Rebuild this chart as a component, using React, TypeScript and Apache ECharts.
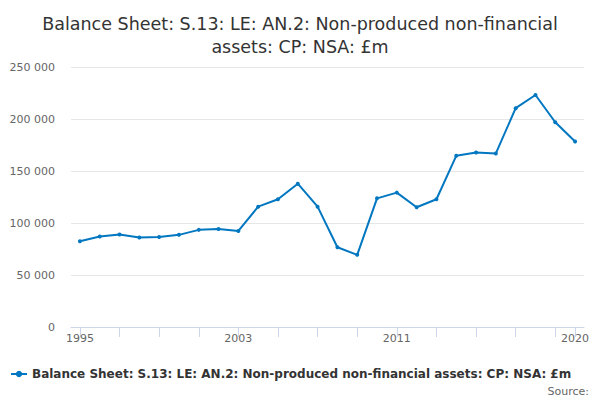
import React, { useEffect, useRef } from "react";
import * as echarts from "echarts";

const years = [1995, 1996, 1997, 1998, 1999, 2000, 2001, 2002, 2003, 2004, 2005, 2006, 2007, 2008, 2009, 2010, 2011, 2012, 2013, 2014, 2015, 2016, 2017, 2018, 2019, 2020];
const values = [82500, 87000, 88900, 86000, 86600, 88600, 93400, 94300, 92400, 115700, 122800, 137800, 115700, 76700, 69400, 123700, 129200, 115100, 122800, 164600, 167800, 166900, 210400, 223100, 196900, 178400];
const tickYears = [1995, 1997, 1999, 2001, 2003, 2005, 2007, 2009, 2011, 2013, 2015, 2017, 2019, 2020];
const labelYears = [1995, 2003, 2011, 2020];
const seriesName = "Balance Sheet: S.13: LE: AN.2: Non-produced non-financial assets: CP: NSA: £m";
const titleText = "Balance Sheet: S.13: LE: AN.2: Non-produced non-financial\nassets: CP: NSA: £m";

const font = "DejaVu Sans, Verdana, sans-serif";

export default function App() {
  const ref = useRef<HTMLDivElement>(null);
  useEffect(() => {
    if (!ref.current) return;
    const chart = echarts.init(ref.current, undefined, { renderer: "svg" });
    chart.setOption({
      animation: false,
      title: {
        text: titleText,
        left: "center",
        top: 7,
        textStyle: { fontFamily: font, fontSize: 17.5, fontWeight: "normal", color: "#333333", lineHeight: 23 },
      },
      grid: { left: 71, right: 16, top: 67, bottom: 73 },
      xAxis: {
        type: "value",
        min: 1994.55,
        max: 2020.45,
        splitLine: { show: false },
        axisLine: { show: true, lineStyle: { color: "#ccd6eb" } },
        axisTick: { show: true, customValues: tickYears, length: 10, lineStyle: { color: "#ccd6eb" } },
        axisLabel: {
          customValues: labelYears,
          formatter: (v: number) => String(v),
          fontFamily: font,
          fontSize: 11,
          color: "#666666",
          margin: 6,
        },
      },
      yAxis: {
        type: "value",
        min: 0,
        max: 250000,
        interval: 50000,
        axisLine: { show: false },
        axisTick: { show: false },
        splitLine: { lineStyle: { color: "#e6e6e6" } },
        axisLabel: {
          formatter: (v: number) => (v === 0 ? "0" : String(v).replace(/\B(?=(\d{3})+(?!\d))/g, " ")),
          fontFamily: font,
          fontSize: 11,
          color: "#666666",
          margin: 16,
        },
      },
      legend: {
        bottom: 15,
        left: 5,
        itemWidth: 16,
        itemHeight: 8,
        itemGap: 6,
        textStyle: { fontFamily: font, fontSize: 12, fontWeight: "bold", color: "#333333" },
        data: [seriesName],
      },
      graphic: [
        {
          type: "text",
          right: 11,
          bottom: 3,
          style: { text: "Source:", font: `11px ${font}`, fill: "#666666" },
        },
      ],
      series: [
        {
          name: seriesName,
          type: "line",
          data: years.map((y, i) => [y, values[i]]),
          symbol: "circle",
          symbolSize: 4,
          lineStyle: { color: "#0077c0", width: 2 },
          itemStyle: { color: "#0077c0" },
        },
      ],
    });
    return () => chart.dispose();
  }, []);
  return <div ref={ref} style={{ width: 600, height: 400, position: "absolute", left: 0, top: 0 }} />;
}
